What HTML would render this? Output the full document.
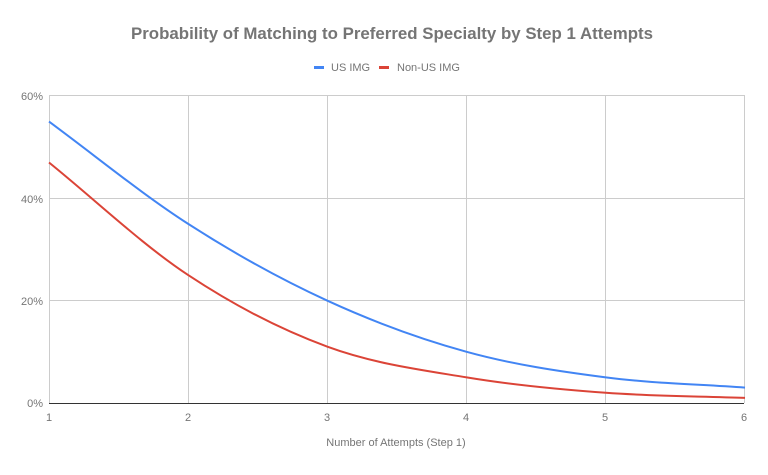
<!DOCTYPE html>
<html><head><style>body{margin:0;background:#fff}svg{display:block}</style></head><body>
<svg width="768" height="475" xmlns="http://www.w3.org/2000/svg" font-family="Liberation Sans, sans-serif">
<rect width="768" height="475" fill="#fff"/>
<text x="131" y="39" font-size="17" font-weight="bold" fill="#757575" textLength="522" lengthAdjust="spacingAndGlyphs">Probability of Matching to Preferred Specialty by Step 1 Attempts</text>
<rect x="314" y="66" width="10" height="3" fill="#4285f4"/>
<text x="331" y="71" font-size="11" fill="#757575">US IMG</text>
<rect x="379" y="66" width="10" height="3" fill="#db4437"/>
<text x="397" y="71" font-size="11" fill="#757575">Non-US IMG</text>
<g stroke="#cccccc" stroke-width="1">
<line x1="49" y1="95.5" x2="744" y2="95.5"/>
<line x1="49" y1="198.5" x2="744" y2="198.5"/>
<line x1="49" y1="300.5" x2="744" y2="300.5"/>
<line x1="49.5" y1="95" x2="49.5" y2="403"/>
<line x1="188.5" y1="95" x2="188.5" y2="403"/>
<line x1="327.5" y1="95" x2="327.5" y2="403"/>
<line x1="466.5" y1="95" x2="466.5" y2="403"/>
<line x1="605.5" y1="95" x2="605.5" y2="403"/>
<line x1="744.5" y1="95" x2="744.5" y2="403"/>
</g>
<line x1="49" y1="403.5" x2="744" y2="403.5" stroke="#333" stroke-width="1"/>
<g font-size="11" fill="#757575" text-anchor="end">
<text x="43" y="100">60%</text>
<text x="43" y="203">40%</text>
<text x="43" y="305">20%</text>
<text x="43" y="407">0%</text>
</g>
<g font-size="11" fill="#757575" text-anchor="middle">
<text x="49" y="421">1</text>
<text x="188" y="421">2</text>
<text x="327" y="421">3</text>
<text x="466" y="421">4</text>
<text x="605" y="421">5</text>
<text x="744" y="421">6</text>
<text x="396" y="446">Number of Attempts (Step 1)</text>
</g>
<path fill="none" stroke="#4285f4" stroke-width="2" d="M49,121.6 C95.4,155.7 141.8,194.05 188.2,223.9 C234.6,253.75 281,279.4 327.4,300.7 C373.8,322 420.2,339 466.6,351.8 C513,364.6 559.4,371.4 605.8,377.4 C652.2,383.4 698.6,384.2 745,387.6"/>
<path fill="none" stroke="#db4437" stroke-width="2" d="M49,162.5 C95.4,200 141.8,244.4 188.2,275.1 C234.6,305.8 281,329.65 327.4,346.7 C373.8,363.75 420.2,369.7 466.6,377.4 C513,385.1 559.4,389.4 605.8,392.8 C652.2,396.2 698.6,396.2 745,397.9"/>
</svg>
</body></html>
